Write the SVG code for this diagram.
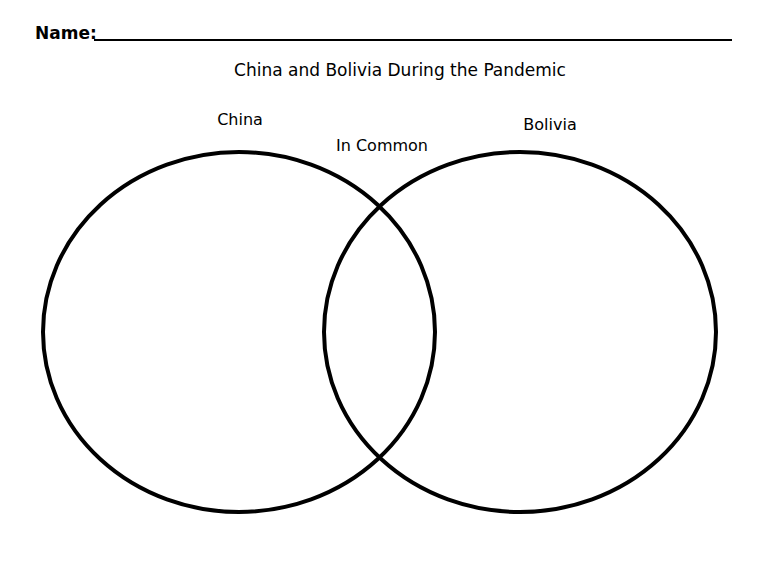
<svg xmlns="http://www.w3.org/2000/svg" width="768" height="576" viewBox="0 0 768 576">
<style>
text{font-family:"DejaVu Sans","Liberation Sans",sans-serif;fill:#000}
.l{font-size:16px;text-anchor:middle}
.c{fill:none;stroke:#000;stroke-width:4}
</style>
<rect width="768" height="576" fill="#fff"/>
<text x="35" y="39" style="font-size:17px;font-weight:bold">Name:</text>
<line x1="94" y1="40" x2="732" y2="40" stroke="#000" stroke-width="2"/>
<text class="l" x="400" y="76" style="font-size:17px">China and Bolivia During the Pandemic</text>
<g id="china"><ellipse class="c" cx="239" cy="332" rx="196" ry="180"/><text class="l" x="240" y="125">China</text></g>
<g id="bolivia"><ellipse class="c" cx="520" cy="332" rx="196" ry="180"/><text class="l" x="550" y="130">Bolivia</text></g>
<g id="common"><text class="l" x="382" y="151">In Common</text></g>
<g id="connectors"/>
</svg>
